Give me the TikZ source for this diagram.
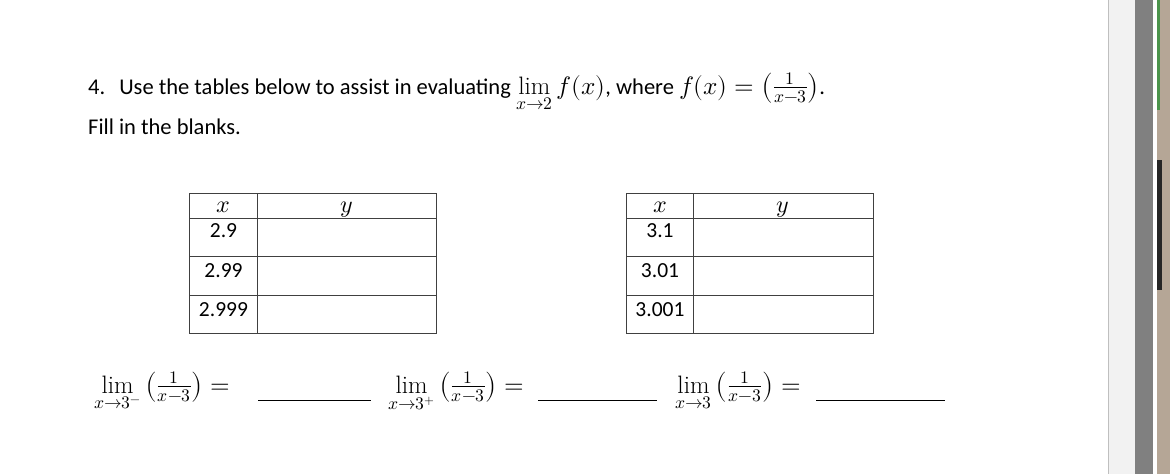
\documentclass[tikz,border=0pt]{standalone}
\usepackage{amsmath}
\usepackage{unicode-math}
\setmainfont{Carlito}
\setmathfont{Latin Modern Math}[Scale=1.12]
\setmathrm{Latin Modern Roman}[Scale=1.12]
\begin{document}
\begin{tikzpicture}[x=1pt,y=-1pt,
  txt/.style={inner sep=0pt,anchor=base west,font=\fontsize{22.5}{26}\selectfont},
  cell/.style={inner sep=0pt,anchor=base,font=\fontsize{21.5}{25}\selectfont},
  grid/.style={draw=black!75,line width=0.9pt},
  blank/.style={line width=0.9pt}]
\useasboundingbox (0,0) rectangle (1170,474);
\fill[white] (0,0) rectangle (1170,474);
% right strip
\fill[black!5] (1108,0) rectangle (1135,474);
\draw[black!25] (1108,0) -- (1108,474);
\fill[black!50] (1135,0) rectangle (1153,474);
\fill[white] (1153,0) rectangle (1157,474);
\fill[brown!35!gray!70] (1157,0) rectangle (1170,474);
\fill[green!40!black!70] (1157,0) rectangle (1160,110);
\fill[black!85] (1157,160) rectangle (1162,290);
% heading
\node[txt] (q) at (88,94) {4.\hspace{14pt}Use the tables below to assist in evaluating $\lim\limits_{x\to2} f(x)$, where $f(x)=\left(\frac{1}{x-3}\right)$.};
\node[txt] (f) at (88,134) {Fill in the blanks.};
% tables
\foreach \ox/\a/\b/\c [count=\i] in {189.5/2.9/2.99/2.999, 626/3.1/3.01/3.001}{
  \draw[grid] (\ox,193) rectangle (\ox+247,333);
  \draw[grid] (\ox+67.5,193) -- (\ox+67.5,333);
  \foreach \yy in {218,256,295} \draw[grid] (\ox,\yy) -- (\ox+247,\yy);
  \node[cell] (hx\i) at (\ox+34,212) {$x$};
  \node[cell] (hy\i) at (\ox+157,212) {$y$};
  \node[cell] (a\i) at (\ox+34,237) {\a};
  \node[cell] (b\i) at (\ox+34,277) {\b};
  \node[cell] (c\i) at (\ox+34,316) {\c};
}
% limits
\node[txt] (l1) at (94,393) {$\lim\limits_{x\to3^-}\left(\frac{1}{x-3}\right)=$};
\node[txt] (l2) at (388,393) {$\lim\limits_{x\to3^+}\left(\frac{1}{x-3}\right)=$};
\node[txt] (l3) at (675,393) {$\lim\limits_{x\to3}\left(\frac{1}{x-3}\right)=$};
\draw[blank] (258,400) -- (371,400);
\draw[blank] (538,400) -- (657,400);
\draw[blank] (816,400) -- (945,400);
\end{tikzpicture}
\end{document}
